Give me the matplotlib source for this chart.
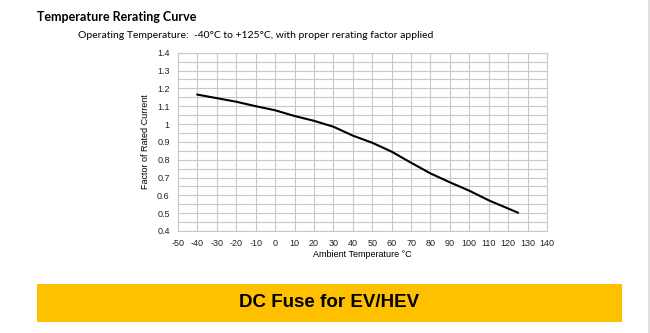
import numpy as np
import matplotlib.pyplot as plt
from matplotlib.patches import Rectangle

plt.rcParams["font.family"] = ["Liberation Sans", "DejaVu Sans"]
plt.rcParams["axes.unicode_minus"] = False

# Rerating curve
temp_c = [-40, -30, -20, -10, 0, 10, 20, 30, 40, 50, 60, 70, 80, 90, 100, 110, 125]
factor = [1.165, 1.145, 1.125, 1.100, 1.077, 1.045, 1.018, 0.985, 0.935, 0.895,
          0.845, 0.783, 0.723, 0.673, 0.626, 0.572, 0.503]

x_ticks = list(range(-50, 141, 10))
y_ticks = [0.4, 0.5, 0.6, 0.7, 0.8, 0.9, 1.0, 1.1, 1.2, 1.3, 1.4]
y_tick_labels = ["0.4", "0.5", "0.6", "0.7", "0.8", "0.9", "1", "1.1", "1.2", "1.3", "1.4"]

W, H = 650, 333
fig = plt.figure(figsize=(W / 100, H / 100), dpi=100)
fig.patch.set_facecolor("white")

# Header texts
fig.text(37 / W, 1 - 17 / H, "Temperature Rerating Curve", fontsize=9,
         fontweight="bold", family="Lato", va="center", ha="left")
fig.text(78 / W, 1 - 35 / H,
         "Operating Temperature:  -40\u00b0C to +125\u00b0C, with proper rerating factor applied",
         fontsize=7.5, family="Lato", va="center", ha="left")

# Chart area
ax = fig.add_axes([178 / W, 1 - 231 / H, (547 - 178) / W, (231 - 52.7) / H])
ax.plot(temp_c, factor, color="black", linewidth=1.5, zorder=3)

ax.set_xlim(-50, 140)
ax.set_ylim(0.4, 1.4)
ax.set_xticks(x_ticks)
ax.set_yticks(y_ticks)
ax.set_yticklabels(y_tick_labels)
ax.set_yticks(np.arange(0.45, 1.4, 0.1), minor=True)
ax.grid(True, which="both", color="#c8c8c8", linewidth=0.8)
ax.tick_params(which="both", length=0, labelsize=6.5, labelcolor="#222222", pad=6)
for s in ax.spines.values():
    s.set_color("#c8c8c8")
    s.set_linewidth(0.8)

ax.set_xlabel("Ambient Temperature \u00b0C", fontsize=6.5, labelpad=3)
ax.xaxis.set_label_coords(0.5, -0.105)
ax.set_ylabel("Factor of Rated Current", fontsize=6.5, labelpad=5)

# Yellow banner
fig.patches.append(Rectangle((37 / W, 1 - 321.7 / H), (622 - 37) / W, (321.7 - 284) / H,
                             transform=fig.transFigure, facecolor="#ffc000",
                             edgecolor="none"))
fig.text((37 + 622) / 2 / W, 1 - 302.5 / H, "DC Fuse for EV/HEV", fontsize=13.5,
         fontweight="bold", ha="center", va="center")

# Page edge line on the right
fig.add_artist(plt.Line2D([648.5 / W, 648.5 / W], [0, 1], transform=fig.transFigure,
                          color="#d9d9d9", linewidth=1.2))

fig.savefig("out.png", dpi=100)
